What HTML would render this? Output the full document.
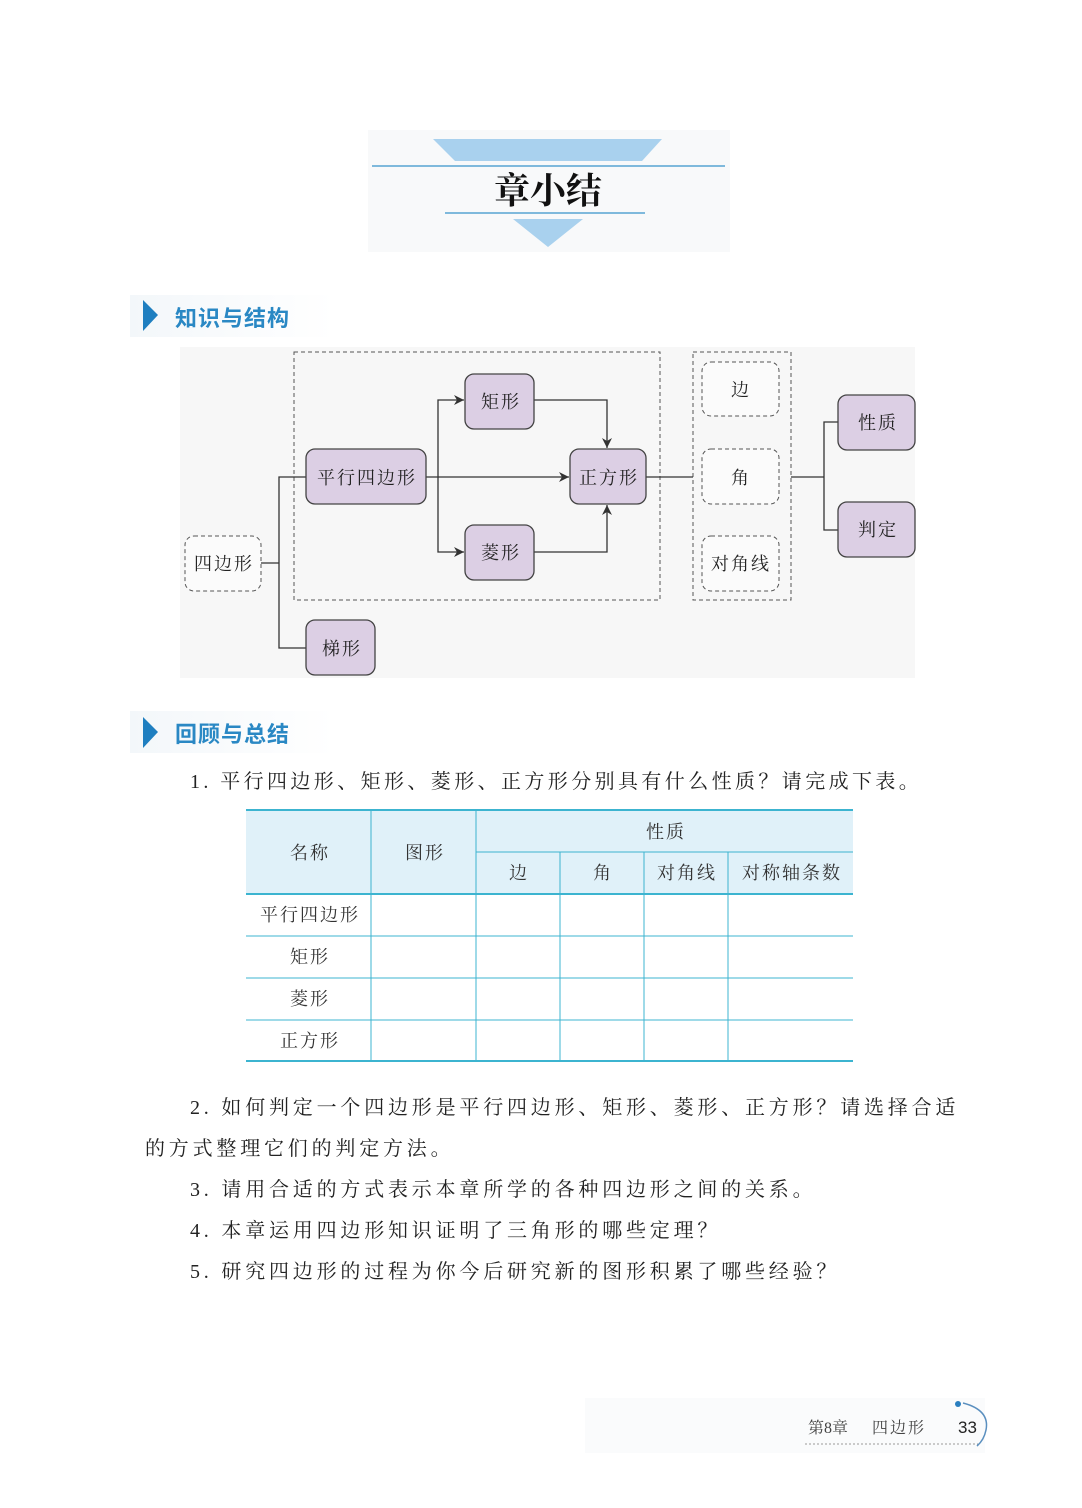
<!DOCTYPE html>
<html><head><meta charset="utf-8"><style>
html,body{margin:0;padding:0;background:#fff;}
body{width:1082px;height:1508px;position:relative;overflow:hidden;font-family:"Liberation Serif","Noto Serif CJK SC",serif;color:#222;}
.t{position:absolute;white-space:nowrap;font-size:20px;letter-spacing:3.8px;line-height:24px;}
.h{position:absolute;font-family:"Liberation Sans","Noto Sans CJK SC",sans-serif;font-weight:bold;color:#2a88c4;font-size:22px;letter-spacing:1px;}
</style></head><body>
<svg width="1082" height="1508" style="position:absolute;left:0;top:0" font-family="'Liberation Serif','Noto Serif CJK SC',serif">
<defs><marker id="a" viewBox="0 0 10 10" refX="10" refY="5" markerWidth="10" markerHeight="10" markerUnits="userSpaceOnUse" orient="auto"><path d="M0,0 L10,5 L0,10 L3,5z" fill="#333"/></marker>
<linearGradient id="g" x1="0" x2="1"><stop offset="0" stop-color="#f3f7fa"/><stop offset="1" stop-color="#fff"/></linearGradient></defs>
<!-- title -->
<rect x="368" y="130" width="362" height="122" fill="#f8f9fa"/>
<polygon points="433,139 662,139 642,161 455,161" fill="#a9d1ee"/>
<line x1="372" y1="166" x2="725" y2="166" stroke="#7fb9dc" stroke-width="2"/>
<text x="548" y="203" text-anchor="middle" font-size="36" font-weight="bold" fill="#111" font-family="'Noto Serif CJK SC',serif">章小结</text>
<line x1="445" y1="213" x2="645" y2="213" stroke="#7fb9dc" stroke-width="2"/>
<polygon points="513,219 583,219 548,247" fill="#a9d1ee"/>
<!-- section headers -->
<rect x="130" y="295" width="205" height="42" fill="url(#g)"/>
<polygon points="143,300 158,315 143,331" fill="#1f7fc0"/>
<rect x="130" y="711" width="205" height="42" fill="url(#g)"/>
<polygon points="143,717 158,732 143,748" fill="#1f7fc0"/>
<!-- diagram -->
<rect x="180" y="347" width="735" height="331" fill="#f7f7f7"/>
<rect x="294" y="352" width="366" height="248" fill="none" stroke="#555" stroke-dasharray="4,3"/>
<rect x="693" y="352" width="98" height="248" fill="none" stroke="#555" stroke-dasharray="4,3"/>
<g fill="none" stroke="#333" stroke-width="1.3">
<polyline points="261,563 279,563"/>
<polyline points="306,477 279,477 279,648 306,648"/>
<line x1="426" y1="477" x2="569" y2="477" marker-end="url(#a)"/>
<polyline points="438,477 438,400 464,400" marker-end="url(#a)"/>
<polyline points="438,477 438,552 464,552" marker-end="url(#a)"/>
<polyline points="534,400 607,400 607,448" marker-end="url(#a)"/>
<polyline points="534,552 607,552 607,505" marker-end="url(#a)"/>
<line x1="646" y1="477" x2="693" y2="477"/>
<line x1="791" y1="477" x2="824" y2="477"/>
<polyline points="838,422 824,422 824,530 838,530"/>
</g>
<g fill="#dccfe4" stroke="#444" stroke-width="1.3">
<rect x="306" y="449" width="120" height="55" rx="9"/>
<rect x="465" y="374" width="69" height="55" rx="9"/>
<rect x="465" y="525" width="69" height="55" rx="9"/>
<rect x="570" y="449" width="76" height="55" rx="9"/>
<rect x="306" y="620" width="69" height="55" rx="9"/>
<rect x="838" y="395" width="77" height="55" rx="9"/>
<rect x="838" y="502" width="77" height="55" rx="9"/>
</g>
<g fill="#fbfbfb" stroke="#555" stroke-dasharray="4,3">
<rect x="185" y="536" width="76" height="55" rx="9"/>
<rect x="702" y="362" width="77" height="54" rx="9"/>
<rect x="702" y="449" width="77" height="55" rx="9"/>
<rect x="702" y="536" width="77" height="55" rx="9"/>
</g>
<g font-size="18" fill="#222" text-anchor="middle" letter-spacing="2">
<text x="367" y="484">平行四边形</text>
<text x="501" y="408">矩形</text>
<text x="501" y="559">菱形</text>
<text x="609" y="484">正方形</text>
<text x="342" y="655">梯形</text>
<text x="878" y="429">性质</text>
<text x="878" y="536">判定</text>
<text x="224" y="570">四边形</text>
<text x="741" y="396">边</text>
<text x="741" y="484">角</text>
<text x="741" y="570">对角线</text>
</g>
<!-- table -->
<rect x="246" y="810" width="607" height="84" fill="#e0f1f9"/>
<g stroke="#3cb4d0">
<line x1="246" y1="810" x2="853" y2="810" stroke-width="2"/>
<line x1="476" y1="852" x2="853" y2="852" stroke-width="1"/>
<line x1="246" y1="894" x2="853" y2="894" stroke-width="2"/>
<line x1="246" y1="936" x2="853" y2="936"/>
<line x1="246" y1="978" x2="853" y2="978"/>
<line x1="246" y1="1020" x2="853" y2="1020"/>
<line x1="246" y1="1061" x2="853" y2="1061" stroke-width="2"/>
<line x1="371" y1="810" x2="371" y2="1061"/>
<line x1="476" y1="810" x2="476" y2="1061"/>
<line x1="560" y1="852" x2="560" y2="1061"/>
<line x1="644" y1="852" x2="644" y2="1061"/>
<line x1="728" y1="852" x2="728" y2="1061"/>
</g>
<g font-size="18" fill="#333" text-anchor="middle" letter-spacing="2">
<text x="310" y="859">名称</text>
<text x="425" y="859">图形</text>
<text x="666" y="838">性质</text>
<text x="519" y="879">边</text>
<text x="603" y="879">角</text>
<text x="687" y="879">对角线</text>
<text x="792" y="879">对称轴条数</text>
<text x="310" y="921">平行四边形</text>
<text x="310" y="963">矩形</text>
<text x="310" y="1005">菱形</text>
<text x="310" y="1047">正方形</text>
</g>
<!-- footer -->
<rect x="585" y="1398" width="400" height="55" fill="#fafbfc"/>
<line x1="805" y1="1444" x2="978" y2="1444" stroke="#999" stroke-dasharray="2,2"/>
<path d="M963,1403 Q990,1410 986,1430 Q984,1440 977,1446" fill="none" stroke="#5a8fbf" stroke-width="1.5"/>
<circle cx="958" cy="1404" r="3" fill="#2a7fc0"/>
<text x="808" y="1433" font-size="16" fill="#444">第8章</text>
<text x="872" y="1433" font-size="16" fill="#444" letter-spacing="2">四边形</text>
<text x="958" y="1433" font-size="17" fill="#222" font-family="'Liberation Sans',sans-serif">33</text>
</svg>
<div class="h" style="left:175px;top:301px">知识与结构</div>
<div class="h" style="left:175px;top:717px">回顾与总结</div>
<div class="t" style="left:190px;top:770px;letter-spacing:3.4px">1. 平行四边形、矩形、菱形、正方形分别具有什么性质？请完成下表。</div>
<div class="t" style="left:190px;top:1096px">2. 如何判定一个四边形是平行四边形、矩形、菱形、正方形？请选择合适</div>
<div class="t" style="left:145px;top:1137px">的方式整理它们的判定方法。</div>
<div class="t" style="left:190px;top:1178px">3. 请用合适的方式表示本章所学的各种四边形之间的关系。</div>
<div class="t" style="left:190px;top:1219px">4. 本章运用四边形知识证明了三角形的哪些定理？</div>
<div class="t" style="left:190px;top:1260px">5. 研究四边形的过程为你今后研究新的图形积累了哪些经验？</div>
</body></html>
